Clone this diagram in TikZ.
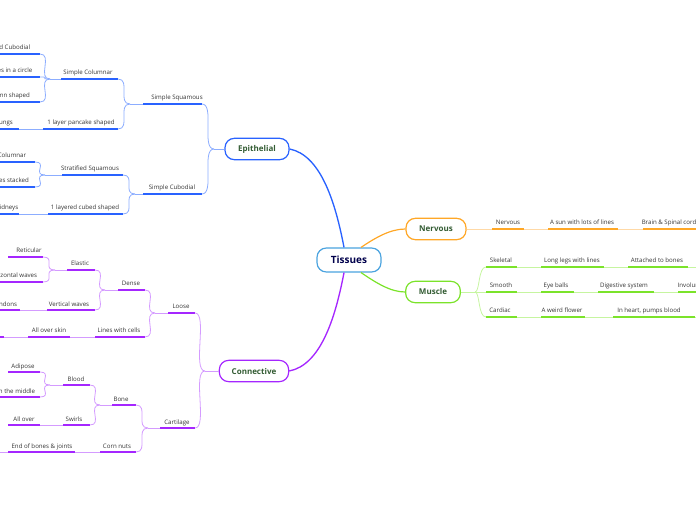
\documentclass[tikz,border=0pt]{standalone}
\usepackage{fontspec}
\setmainfont{Open Sans}
\begin{document}
\begin{tikzpicture}[x=0.75pt,y=-0.75pt,
 lbl/.style={inner sep=0pt,font=\fontsize{4.6}{5}\selectfont,text=black!80,anchor=base},
 box/.style={draw,rounded corners=7pt,line width=0.9pt,fill=white,font=\fontsize{6}{7}\selectfont\bfseries,text=green!20!black!80,minimum height=16pt},
 cn/.style={line width=0.6pt}]
\definecolor{eb}{HTML}{2962FF}\definecolor{ebl}{HTML}{8CADFF}
\definecolor{cp}{HTML}{A526FF}\definecolor{cpl}{HTML}{D49BFF}
\definecolor{no}{HTML}{FFA726}\definecolor{nol}{HTML}{FFD9A6}
\definecolor{mg}{HTML}{7BE32A}\definecolor{mgl}{HTML}{C6F5A0}
\definecolor{tb}{HTML}{4AA3DF}
\useasboundingbox (0,0) rectangle (696,520);
\clip (0,0) rectangle (696,520);
% name, x1, x2, y, text x, text, colour ; text centred at text x
\newcommand\leaf[7]{%
 \coordinate (#1-l) at (#2,#4); \coordinate (#1-r) at (#3,#4);
 \draw[#7,line width=1.3pt] (#1-l)--(#1-r);
 \node[lbl] (#1) at (#5,#4-4) {#6};}
\newcommand\crv[3]{\draw[cn,#3] (#1) .. controls +(-13,0) and +(13,0) .. (#2);}
\newcommand\str[3]{\draw[cn,#3] (#1)--(#2);}

% central
\node[box,draw=tb,text=blue!30!black,font=\fontsize{7.5}{8}\selectfont\bfseries,minimum width=48pt,minimum height=18pt] (tis) at (349,260) {Tissues};
\node[box,draw=eb,minimum width=48pt] (epi) at (257,149) {Epithelial};
\node[box,draw=cp,minimum width=52pt] (con) at (254,371) {Connective};
\node[box,draw=no,minimum width=45pt] (ner) at (436,229) {Nervous};
\node[box,draw=mg,minimum width=41pt] (mus) at (433,292) {Muscle};
\draw[eb,line width=1pt] (tis.north) ++(-5,0) coordinate(t1) (t1) .. controls (335,200) and (320,155) .. (epi.east);
\draw[cp,line width=1pt] (tis.south) ++(-5,0) coordinate(t2) (t2) .. controls (335,320) and (320,365) .. (con.east);
\draw[no,line width=0.9pt] (tis.north) ++(12,0) coordinate(t3) (t3) .. controls (375,238) and (390,229) .. (ner.west);
\draw[mg,line width=0.9pt] (tis.south) ++(12,0) coordinate(t4) (t4) .. controls (375,282) and (390,292) .. (mus.west);

% Epithelial
\coordinate (epj) at (214,149);
\draw[cn,ebl] (epi.west)--(epj);
\leaf{ss}{143}{202}{104}{177}{Simple Squamous}{eb}
\leaf{sc}{143}{202}{194}{172}{Simple Cubodial}{eb}
\crv{epj}{ss-r}{ebl}\crv{epj}{sc-r}{ebl}
\coordinate (ssj) at (130,104);\str{ss-l}{ssj}{ebl}
\leaf{scol}{61}{118}{79}{88}{Simple Columnar}{eb}
\leaf{pan}{43}{118}{129}{81}{1 layer pancake shaped}{eb}
\crv{ssj}{scol-r}{ebl}\crv{ssj}{pan-r}{ebl}
\coordinate (scj) at (50,79);\str{scol-l}{scj}{ebl}
\leaf{a1}{-5}{40}{54}{13}{ed Cubodial}{eb}
\leaf{a2}{-5}{40}{77}{15}{es in a circle}{eb}
\leaf{a3}{-5}{40}{102}{12}{umn shaped}{eb}
\crv{scj}{a1-r}{ebl}\crv{scj}{a2-r}{ebl}\crv{scj}{a3-r}{ebl}
\leaf{lu}{-5}{19}{129}{6}{ungs}{eb}\str{pan-l}{lu-r}{ebl}
\coordinate (scj2) at (135,194);\str{sc-l}{scj2}{ebl}
\leaf{strs}{62}{123}{175}{90}{Stratified Squamous}{eb}
\leaf{cub}{48}{123}{214}{85}{1 layered cubed shaped}{eb}
\crv{scj2}{strs-r}{ebl}\crv{scj2}{cub-r}{ebl}
\coordinate (stj) at (45,175);\str{strs-l}{stj}{ebl}
\leaf{b1}{-5}{35}{162}{12}{Columnar}{eb}
\leaf{b2}{-5}{35}{187}{14}{es stacked}{eb}
\crv{stj}{b1-r}{ebl}\crv{stj}{b2-r}{ebl}
\leaf{kid}{-5}{19}{214}{9}{idneys}{eb}\str{cub-l}{kid-r}{ebl}

% Connective
\coordinate (cj) at (205,371);\draw[cn,cpl] (con.west)--(cj);
\leaf{loo}{168}{195}{313}{181}{Loose}{cp}
\leaf{car}{160}{195}{428}{177}{Cartilage}{cp}
\crv{cj}{loo-r}{cpl}\crv{cj}{car-r}{cpl}
\coordinate (lj) at (155,313);\str{loo-l}{lj}{cpl}
\leaf{den}{118}{145}{290}{131}{Dense}{cp}
\leaf{lwc}{95}{145}{337}{119}{Lines with cells}{cp}
\crv{lj}{den-r}{cpl}\crv{lj}{lwc-r}{cpl}
\coordinate (dj) at (105,290);\str{den-l}{dj}{cpl}
\leaf{ela}{67}{95}{270}{80}{Elastic}{cp}
\leaf{vw}{47}{95}{310}{69}{Vertical waves}{cp}
\crv{dj}{ela-r}{cpl}\crv{dj}{vw-r}{cpl}
\coordinate (ej) at (55,270);\str{ela-l}{ej}{cpl}
\leaf{ret}{8}{43}{257}{29}{Reticular}{cp}
\leaf{hz}{-5}{43}{282}{18}{izontal waves}{cp}
\crv{ej}{ret-r}{cpl}\crv{ej}{hz-r}{cpl}
\leaf{ten}{-5}{20}{310}{8}{ndons}{cp}\str{vw-l}{ten-r}{cpl}
\leaf{aos}{28}{70}{337}{49}{All over skin}{cp}\str{lwc-l}{aos-r}{cpl}
\draw[cp,line width=1.3pt] (-5,337)--(4,337);\draw[cn,cpl] (aos-l)--(4,337);
\coordinate (caj) at (148,428);\str{car-l}{caj}{cpl}
\leaf{bon}{112}{136}{405}{121}{Bone}{cp}
\leaf{cor}{100}{136}{452}{117}{Corn nuts}{cp}
\crv{caj}{bon-r}{cpl}\crv{caj}{cor-r}{cpl}
\coordinate (bj) at (100,405);\str{bon-l}{bj}{cpl}
\leaf{blo}{63}{90}{385}{76}{Blood}{cp}
\leaf{swi}{63}{90}{425}{74}{Swirls}{cp}
\crv{bj}{blo-r}{cpl}\crv{bj}{swi-r}{cpl}
\coordinate (blj) at (50,385);\str{blo-l}{blj}{cpl}
\leaf{adi}{8}{40}{372}{23}{Adipose}{cp}
\leaf{mid}{-5}{40}{397}{17}{n the middle}{cp}
\crv{blj}{adi-r}{cpl}\crv{blj}{mid-r}{cpl}
\leaf{ao}{8}{40}{425}{24}{All over}{cp}\str{swi-l}{ao-r}{cpl}
\leaf{eob}{8}{75}{452}{42}{End of bones \& joints}{cp}\str{cor-l}{eob-r}{cpl}
\draw[cn,cpl] (eob-l)--(-5,452);

% Nervous
\leaf{n1}{492}{524}{229}{508}{Nervous}{no}
\leaf{n2}{548}{618}{229}{582}{A sun with lots of lines}{no}
\leaf{n3}{643}{700}{229}{669}{Brain \& Spinal cord}{no}
\draw[cn,nol] (ner.east)--(n1-l) (n1-r)--(n2-l) (n2-r)--(n3-l);

% Muscle
\coordinate (mj) at (475,292);\draw[cn,mgl] (mus.east)--(mj);
\leaf{m1}{486}{517}{267}{501}{Skeletal}{mg}
\leaf{m2}{541}{604}{267}{572}{Long legs with lines}{mg}
\leaf{m3}{628}{688}{267}{657}{Attached to bones}{mg}
\leaf{m4}{486}{517}{292}{501}{Smooth}{mg}
\leaf{m5}{541}{574}{292}{556}{Eye balls}{mg}
\leaf{m6}{598}{654}{292}{624}{Digestive system}{mg}
\leaf{m7}{678}{710}{292}{694}{Involuntary}{mg}
\leaf{m8}{486}{517}{317}{500}{Cardiac}{mg}
\leaf{m9}{541}{585}{317}{562}{A weird flower}{mg}
\leaf{m10}{613}{695}{317}{649}{In heart, pumps blood}{mg}
\draw[cn,mgl] (mj) .. controls (480,292) and (478,267) .. (m1-l);
\draw[cn,mgl] (mj)--(m4-l);
\draw[cn,mgl] (mj) .. controls (480,292) and (478,317) .. (m8-l);
\draw[cn,mgl] (m1-r)--(m2-l) (m2-r)--(m3-l) (m3-r)--(700,267) (m4-r)--(m5-l) (m5-r)--(m6-l) (m6-r)--(m7-l) (m8-r)--(m9-l) (m9-r)--(m10-l) (m10-r)--(700,317);
\end{tikzpicture}
\end{document}
